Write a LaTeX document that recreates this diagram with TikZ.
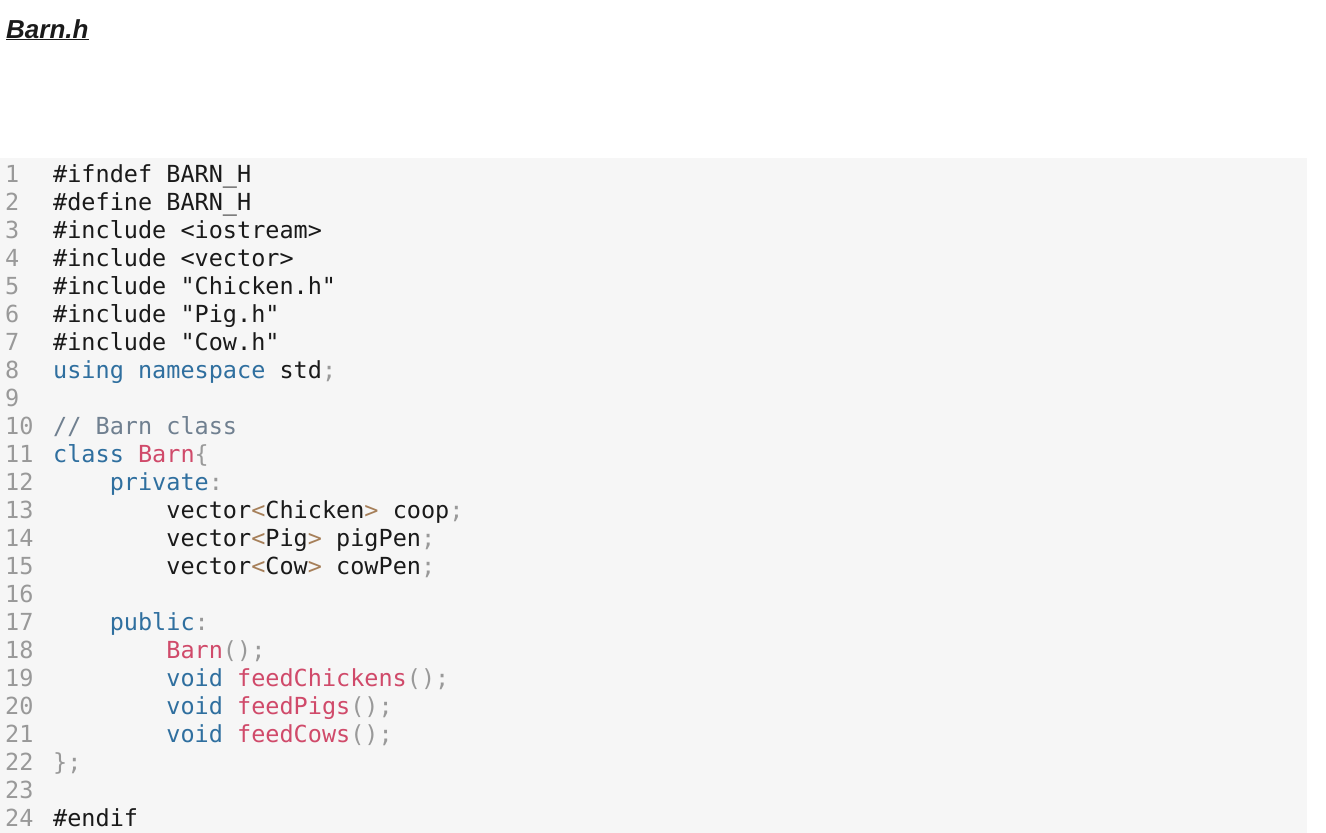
\documentclass[tikz,border=0pt]{standalone}
\usepackage{fontspec}
\setmainfont{Liberation Sans}
\setmonofont{DejaVu Sans Mono}
\definecolor{bg}{HTML}{F6F6F6}
\definecolor{kw}{HTML}{2F6F9F}
\definecolor{fn}{HTML}{D04A6A}
\definecolor{pu}{HTML}{999999}
\definecolor{op}{HTML}{A67F59}
\definecolor{cm}{HTML}{708090}
\definecolor{ln}{HTML}{999999}
\definecolor{tx}{HTML}{1A1A1A}
\newcommand{\K}[1]{\textcolor{kw}{#1}}
\newcommand{\F}[1]{\textcolor{fn}{#1}}
\newcommand{\Pu}[1]{\textcolor{pu}{#1}}
\newcommand{\Op}[1]{\textcolor{op}{#1}}
\tikzset{code/.style={anchor=base west,inner sep=0pt,text=tx,font=\fontsize{23.5}{28}\selectfont\ttfamily},
num/.style={code,text=ln}}
\begin{document}
\begin{tikzpicture}[x=1pt,y=-1pt]
\useasboundingbox (0,0) rectangle (1326,833);
\fill[bg] (0,158) rectangle (1307,833);
\node[anchor=base west,inner sep=0pt,text=tx,font=\fontsize{26}{30}\selectfont\bfseries\itshape] (title) at (6,38) {\underline{Barn.h}};
\foreach \i in {1,...,24}{\node[num] (n\i) at (5,{182+28*(\i-1)}) {\i};}
\node[code] (l1) at (53,182) {\#ifndef BARN\_H};
\node[code] (l2) at (53,210) {\#define BARN\_H};
\node[code] (l3) at (53,238) {\#include <iostream>};
\node[code] (l4) at (53,266) {\#include <vector>};
\node[code] (l5) at (53,294) {\#include "Chicken.h"};
\node[code] (l6) at (53,322) {\#include "Pig.h"};
\node[code] (l7) at (53,350) {\#include "Cow.h"};
\node[code] (l8) at (53,378) {\K{using} \K{namespace} std\Pu{;}};
\node[code,text=cm] (l10) at (53,434) {// Barn class};
\node[code] (l11) at (53,462) {\K{class} \F{Barn}\Pu{\{}};
\node[code] (l12) at (53,490) {\phantom{xxxx}\K{private}\Pu{:}};
\node[code] (l13) at (53,518) {\phantom{xxxxxxxx}vector\Op{<}Chicken\Op{>} coop\Pu{;}};
\node[code] (l14) at (53,546) {\phantom{xxxxxxxx}vector\Op{<}Pig\Op{>} pigPen\Pu{;}};
\node[code] (l15) at (53,574) {\phantom{xxxxxxxx}vector\Op{<}Cow\Op{>} cowPen\Pu{;}};
\node[code] (l17) at (53,630) {\phantom{xxxx}\K{public}\Pu{:}};
\node[code] (l18) at (53,658) {\phantom{xxxxxxxx}\F{Barn}\Pu{();}};
\node[code] (l19) at (53,686) {\phantom{xxxxxxxx}\K{void} \F{feedChickens}\Pu{();}};
\node[code] (l20) at (53,714) {\phantom{xxxxxxxx}\K{void} \F{feedPigs}\Pu{();}};
\node[code] (l21) at (53,742) {\phantom{xxxxxxxx}\K{void} \F{feedCows}\Pu{();}};
\node[code] (l22) at (53,770) {\Pu{\};}};
\node[code] (l24) at (53,826) {\#endif};
\end{tikzpicture}
\end{document}
